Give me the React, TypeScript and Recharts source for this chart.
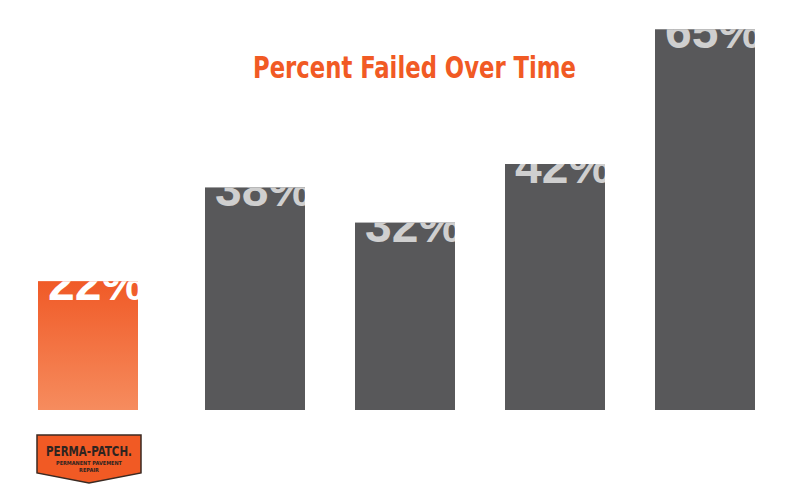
import React from 'react'
import { BarChart, Bar, XAxis, YAxis } from 'recharts'

// values
const categories = ['Perma-Patch', 'Repair 2', 'Repair 3', 'Repair 4', 'Repair 5']
const failedPct = [22, 38, 32, 42, 65]
const yDomain = [0, 70]

const ORANGE = '#F15A24'
const GRAY = '#58585A'

const rows = categories.map((name, i) => ({ name, value: failedPct[i] }))
const permaRows = rows.slice(0, 1)
const otherRows = rows.slice(1)

function makeShape(prefix: string, fill: string, textColor: string) {
  return (props: any) => {
    const { x, y, width, height, index, payload } = props
    const id = `clip-${prefix}-${index}`
    return (
      <g>
        <defs>
          <clipPath id={id}>
            <rect x={x} y={y} width={width} height={height} />
          </clipPath>
        </defs>
        <rect x={x} y={y} width={width} height={height} fill={fill} />
        <text
          x={x + 10}
          y={y + 19}
          clipPath={`url(#${id})`}
          fill={textColor}
          fontFamily="'Liberation Sans', Arial, sans-serif"
          fontWeight="bold"
          fontSize={48}
        >
          {`${payload.value}%`}
        </text>
      </g>
    )
  }
}

function Logo() {
  return (
    <svg width={130} height={64} style={{ position: 'absolute', left: 25, top: 426 }}>
      <path d="M12 9 L116 9 L116 47 L64 57 L12 47 Z" fill={ORANGE} stroke="#3b2a22" strokeWidth={1.5} />
      <text x={64} y={30} textAnchor="middle" fill="#2e2420" fontFamily="'DejaVu Sans Condensed', 'DejaVu Sans', sans-serif" fontWeight="bold" fontSize={14} textLength={86} lengthAdjust="spacingAndGlyphs">
        PERMA-PATCH.
      </text>
      <text x={64} y={39} textAnchor="middle" fill="#2e2420" fontFamily="'DejaVu Sans Condensed', sans-serif" fontWeight="bold" fontSize={5.5}>
        PERMANENT PAVEMENT
      </text>
      <text x={64} y={46} textAnchor="middle" fill="#2e2420" fontFamily="'DejaVu Sans Condensed', sans-serif" fontWeight="bold" fontSize={5.5}>
        REPAIR
      </text>
    </svg>
  )
}

export default function App() {
  return (
    <div style={{ position: 'fixed', left: 0, top: 0, width: 800, height: 500, background: '#fff', overflow: 'hidden' }}>
      <svg width={800} height={100} style={{ position: 'absolute', left: 0, top: 0 }}>
        <text
          x={253}
          y={78}
          fill={ORANGE}
          fontFamily="'DejaVu Sans Condensed', 'DejaVu Sans', sans-serif"
          fontWeight="bold"
          fontSize={31}
          textLength={323}
          lengthAdjust="spacingAndGlyphs"
        >
          Percent Failed Over Time
        </text>
      </svg>

      <div style={{ position: 'absolute', left: 13, top: 0 }}>
        <BarChart width={150} height={410} data={permaRows} margin={{ top: 0, right: 0, bottom: 0, left: 0 }}>
          <defs>
            <linearGradient id="permaFill" x1="0" y1="0" x2="0" y2="1">
              <stop offset="0%" stopColor="#F05A27" />
              <stop offset="100%" stopColor="#F68C5E" />
            </linearGradient>
          </defs>
          <XAxis dataKey="name" hide />
          <YAxis domain={yDomain} hide />
          <Bar dataKey="value" barSize={100} isAnimationActive={false} shape={makeShape('perma', 'url(#permaFill)', '#ffffff')} />
        </BarChart>
      </div>

      <div style={{ position: 'absolute', left: 180, top: 0 }}>
        <BarChart width={600} height={410} data={otherRows} margin={{ top: 0, right: 0, bottom: 0, left: 0 }}>
          <XAxis dataKey="name" hide />
          <YAxis domain={yDomain} hide />
          <Bar dataKey="value" barSize={100} isAnimationActive={false} shape={makeShape('other', GRAY, '#CFCFCF')} />
        </BarChart>
      </div>

      <Logo />
    </div>
  )
}
